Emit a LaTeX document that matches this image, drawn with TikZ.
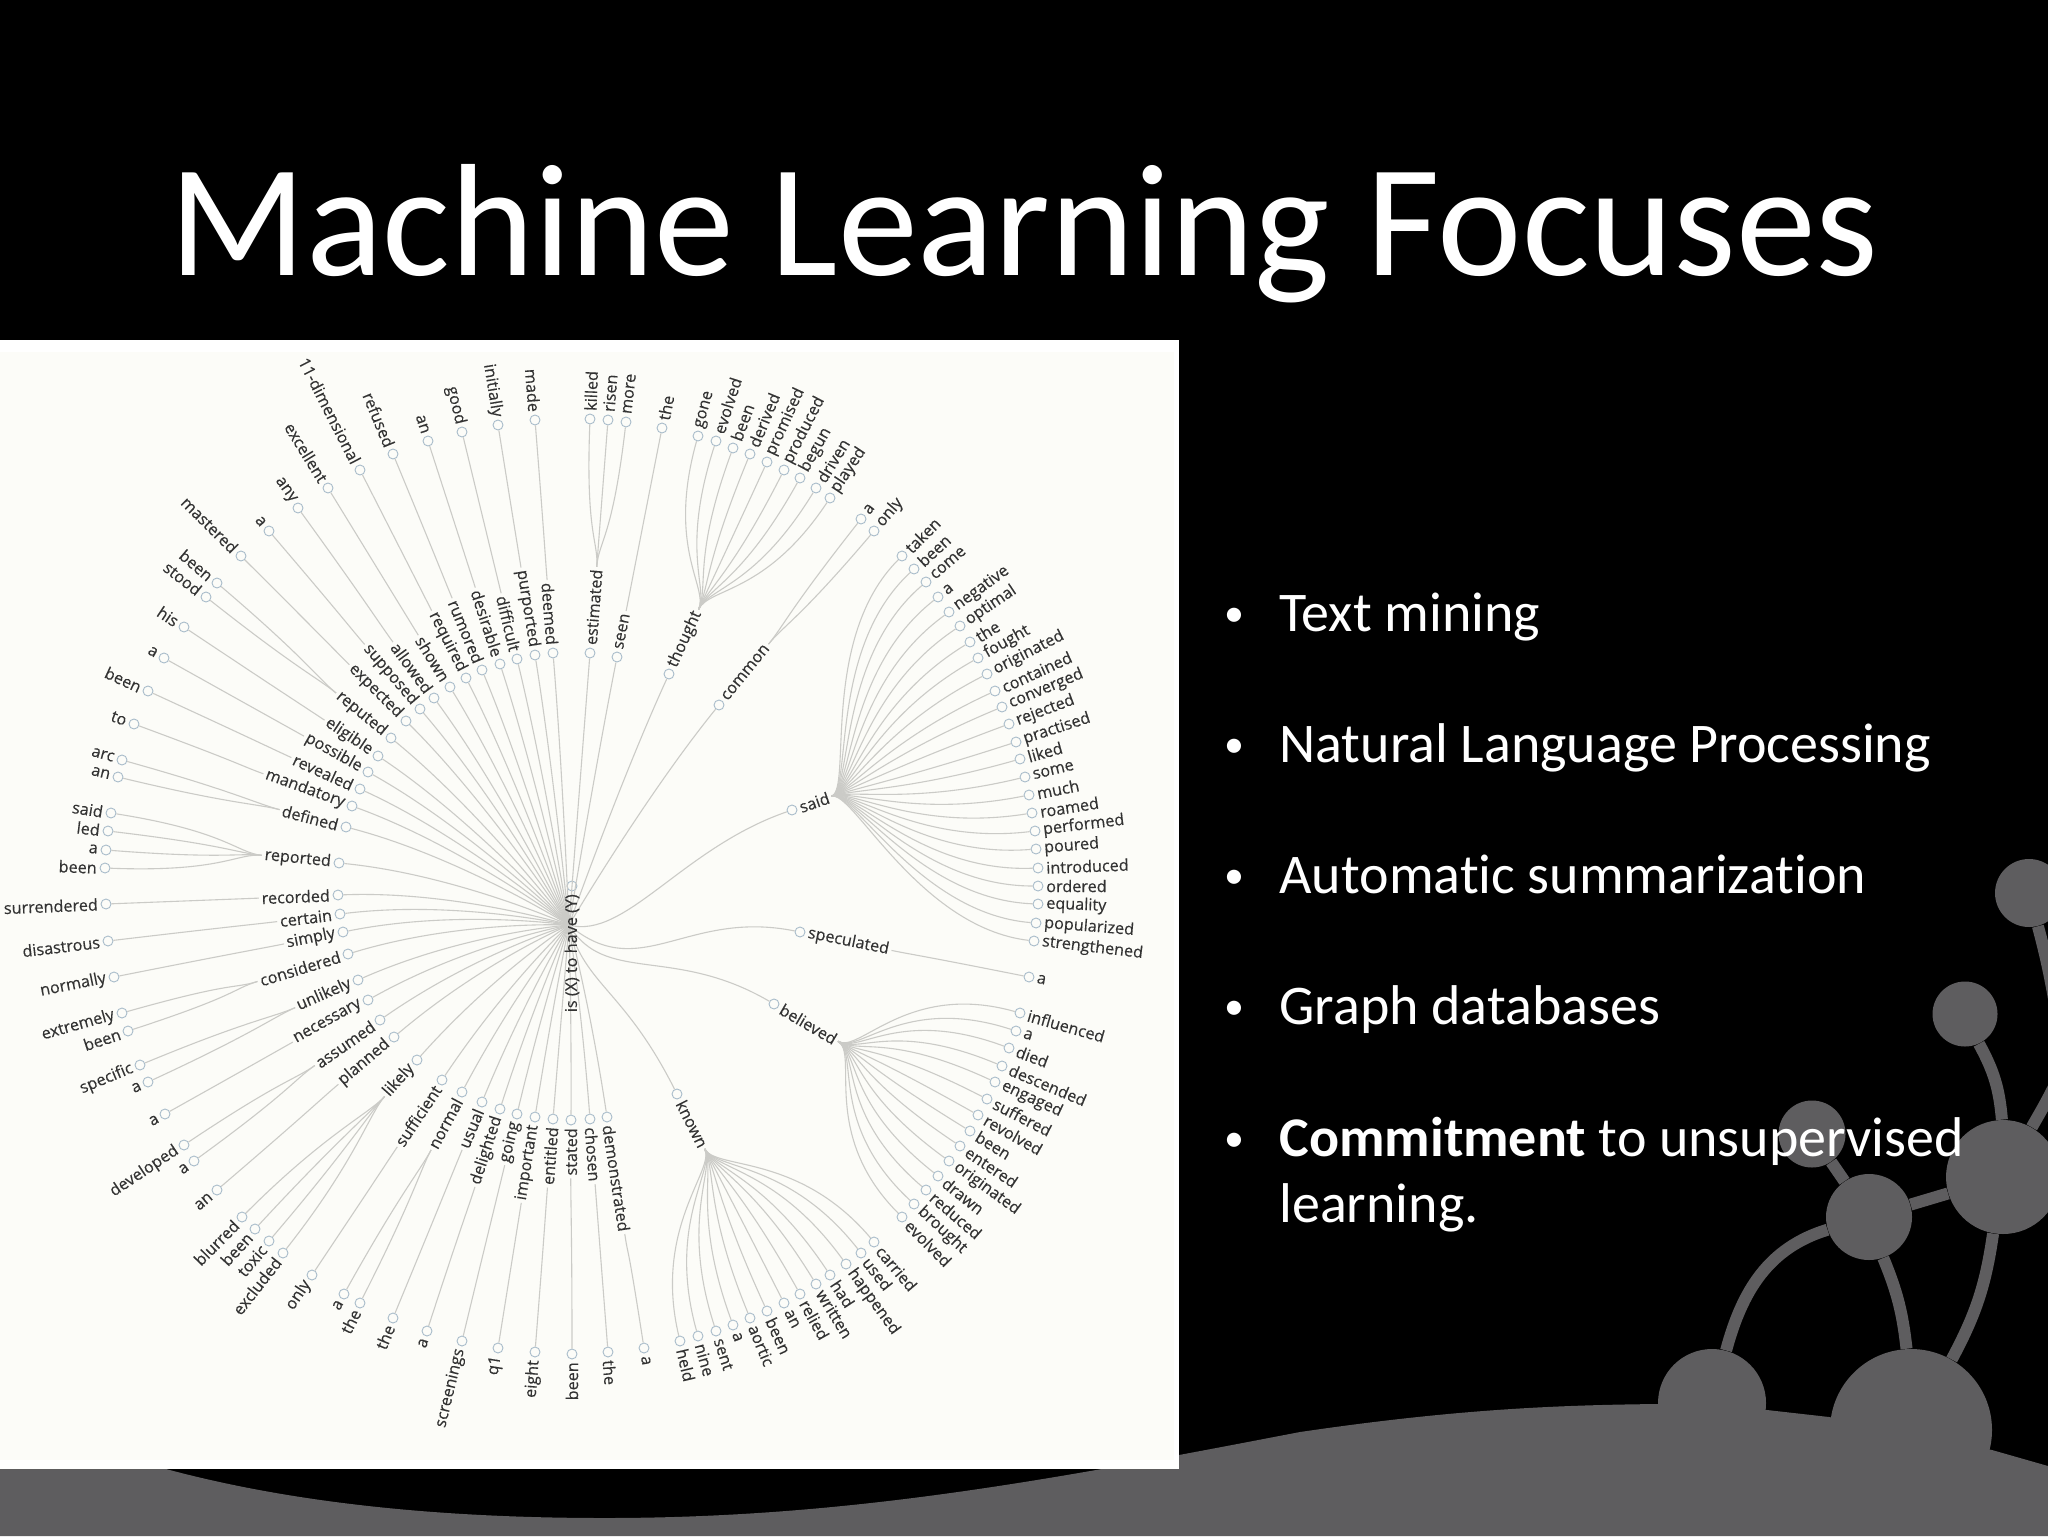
\documentclass[tikz,border=0pt]{standalone}
\usepackage{fontspec}
\setmainfont[Ligatures=NoCommon]{Carlito}
\newfontfamily\wordfont[FakeBold=0.35]{Open Sans}
\usetikzlibrary{calc}
\definecolor{hill}{HTML}{5E5D5F}
\definecolor{paper}{HTML}{FCFCF8}
\definecolor{ring}{HTML}{A9BCCA}
\definecolor{wire}{HTML}{CBCBC7}
\definecolor{ink}{HTML}{333333}
\tikzset{
	vert/.style ={draw = ring, fill = paper, circle, inner sep = 0pt, minimum size = 5pt, line width = 0.45pt},
	wordstyle/.style ={font = \wordfont\fontsize{8.1}{9}\selectfont, text = ink, inner sep = 1.2pt},
	link/.style ={draw = wire, line width = 0.55pt},
	blob/.style ={circle, fill = hill, inner sep = 0pt},
	stem/.style ={draw = hill, line width = 6pt},
	bodytext/.style ={font = \fontsize{28}{32}\selectfont, text = white, anchor = base west, inner sep = 0pt},
	dotmark/.style ={font = \fontsize{20}{24}\selectfont, text = white, anchor = base west, inner sep = 0pt},
}
% one circle with its text set along the ray from the root
\newcommand{\word}[4]{%
	\node[vert] (#1) at (#2,#3) {};
	\pgfmathsetmacro\wang{atan2(886-#3,#2-572)}
	\ifdim #2pt>580pt
		\node[wordstyle, rotate = \wang, anchor = west] (#1t) at (#1.\wang) {#4};
		\coordinate (#1e) at (#1t.east);
	\else
		\pgfmathsetmacro\wflip{\wang+180}
		\node[wordstyle, rotate = \wflip, anchor = east] (#1t) at (#1.\wang) {#4};
		\coordinate (#1e) at (#1t.west);
	\fi
}
% first-level word, its link from the hub, and its children
\newcommand{\limb}[6]{%
	\word{#1}{#2}{#3}{#4}
	\draw[link] (hub) .. controls #5 and ($(#1)!.5!(root)$) .. (#1);
	\foreach \i/\x/\y/\w in {#6}{
		\word{#1\i}{\x}{\y}{\w}
		\draw[link] (#1e) .. controls ($(root)!1.08!(#1e)$) and ($(#1\i)!.25!(root)$) .. (#1\i);
	}
}
\begin{document}
\begin{tikzpicture}[x = 0.5pt, y = -0.5pt]
	\useasboundingbox (0,0) rectangle (2048,1536);
	\fill[black] (0,0) rectangle (2048,1536);
	% ground
	\fill[hill] (0,1536) -- (0,1469) -- (166,1469) .. controls (300,1505) and (450,1518) .. (605,1518)
	.. controls (850,1518) and (1050,1480) .. (1300,1432) .. controls (1450,1410) and (1550,1405) .. (1660,1404)
	-- (1767,1410) -- (1829,1417) -- (1992,1450) -- (2048,1466) -- (2048,1536) -- cycle;
	% molecule
	\node[blob, minimum size = 108pt*0.5] (molG) at (1712,1403) {};
	\node[blob, minimum size = 162pt*0.5] (molF) at (1911,1430) {};
	\node[blob, minimum size = 68pt*0.5] (molA) at (2029,893) {};
	\node[blob, minimum size = 65pt*0.5] (molB) at (1965,1014) {};
	\node[blob, minimum size = 67pt*0.5] (molC) at (1812,1134) {};
	\node[blob, minimum size = 86pt*0.5] (molD) at (1869,1217) {};
	\node[blob, minimum size = 114pt*0.5] (molE) at (2003,1177) {};
	\coordinate (offA) at (2056,1010);
	\coordinate (offE) at (2062,1070);
	\draw[stem] (molB) to[bend left = 12] (molE);
	\draw[stem] (molC) -- (molD);
	\draw[stem] (molD) -- (molE);
	\draw[stem] (molD) to[out = 197, in = 75] (molG);
	\draw[stem] (molD) to[bend left = 8] (molF);
	\draw[stem] (molE) to[bend left = 10] (molF);
	\draw[stem] (molA) to[out = -75, in = 100] (offA);
	\draw[stem] (molE) to[out = 60, in = -115] (offE);
	% title and bullets
	\node[font = \fontsize{80}{88}\selectfont, text = white, anchor = base, inner sep = 0pt] (title) at (1024,275) {Machine Learning Focuses};
	\foreach \i/\y/\w in {1/631/Text mining, 2/762/Natural Language Processing, 3/893/Automatic summarization, 4/1024/Graph databases, 5/1156/{\textbf{Commitment} to unsupervised}}{
		\node[dotmark] (dot\i) at (1224,\y-5) {•};
		\node[bodytext] (item\i) at (1279,\y) {\w};
	}
	\node[bodytext] (item6) at (1279,1222) {learning.};
	% picture panel
	\fill[white] (0,340) rectangle (1179,1469);
	\fill[paper] (0,352) rectangle (1174,1460);
	\coordinate (hub) at (569,925);
	\node[vert] (root) at (572,886) {};
	% left side
	\limb{recorded}{338}{895}{recorded}{(hub)}{1/106/904/surrendered}
	\limb{reported}{339}{863}{reported}{(hub)}{1/111/813/said, 2/108/831/led, 3/106/850/a, 4/105/868/been}
	\limb{defined}{346}{827}{defined}{(hub)}{1/122/760/arc, 2/118/777/an}
	\limb{mandatory}{352}{806}{mandatory}{(hub)}{1/134/724/to}
	\limb{revealed}{360}{789}{revealed}{(hub)}{1/148/691/been}
	\limb{possible}{368}{772}{possible}{(hub)}{1/164/658/a}
	\limb{eligible}{378}{756}{eligible}{(hub)}{1/184/627/his}
	\limb{reputed}{391}{738}{reputed}{(hub)}{1/217/583/been, 2/206/597/stood}
	\limb{expected}{406}{721}{expected}{(hub)}{1/241/556/mastered}
	\limb{supposed}{420}{709}{supposed}{(hub)}{1/269/531/a}
	\limb{allowed}{434}{698}{allowed}{(hub)}{1/298/508/any}
	\limb{shown}{450}{687}{shown}{(hub)}{1/328/488/excellent}
	\limb{required}{466}{678}{required}{(hub)}{1/360/470/11-dimensional}
	\limb{rumored}{482}{670}{rumored}{(hub)}{1/393/454/refused}
	\limb{desirable}{500}{664}{desirable}{(hub)}{1/428/441/an}
	\limb{difficult}{517}{659}{difficult}{(hub)}{1/462/432/good}
	\limb{purported}{535}{655}{purported}{(hub)}{1/498/425/initially}
	\limb{deemed}{553}{653}{deemed}{(hub)}{1/535/420/made}
	% right side
	\limb{estimated}{590}{653}{estimated}{(hub)}{1/590/419/killed, 2/608/420/risen, 3/626/422/more}
	\limb{seen}{617}{657}{seen}{(hub)}{1/662/428/the}
	\limb{thought}{669}{674}{thought}{(hub)}{1/698/436/gone, 2/716/441/evolved, 3/733/448/been, 4/750/454/derived, 5/767/462/promised, 6/784/470/produced, 7/800/478/begun, 8/816/488/driven, 9/830/498/played}
	\limb{common}{719}{705}{common}{(hub)}{1/861/519/a, 2/874/531/only}
	\limb{said}{792}{810}{said}{(625,940)}{1/902/556/taken, 2/914/569/been, 3/926/582/come, 4/938/597/a, 5/949/612/negative, 6/960/626/optimal, 7/970/642/the, 8/978/658/fought, 9/987/674/originated, 10/995/691/contained, 11/1002/707/converged, 12/1009/724/rejected, 13/1016/742/practised, 14/1020/759/liked, 15/1025/777/some, 16/1029/795/much, 17/1032/813/roamed, 18/1035/831/performed, 19/1036/849/poured, 20/1038/868/introduced, 21/1038/886/ordered, 22/1038/904/equality, 23/1036/923/popularized, 24/1034/941/strengthened}
	\limb{speculated}{800}{932}{speculated}{(640,985)}{1/1029/977/a}
	\limb{believed}{774}{1004}{believed}{(605,985)}{1/1020/1013/influenced, 2/1016/1031/a, 3/1009/1048/died, 4/1002/1066/descended, 5/995/1082/engaged, 6/987/1099/suffered, 7/978/1115/revolved, 8/970/1131/been, 9/960/1146/entered, 10/949/1161/originated, 11/938/1176/drawn, 12/926/1190/reduced, 13/914/1204/brought, 14/902/1217/evolved}
	\limb{known}{677}{1094}{known}{(585,985)}{1/874/1242/carried, 2/861/1253/used, 3/846/1264/happened, 4/830/1275/had, 5/816/1284/written, 6/800/1294/relied, 7/784/1303/an, 8/767/1311/been, 9/750/1318/aortic, 10/733/1325/a, 11/716/1331/sent, 12/698/1336/nine, 13/680/1341/held}
	% bottom
	\limb{demonstrated}{607}{1117}{demonstrated}{(hub)}{1/644/1348/a}
	\limb{chosen}{590}{1119}{chosen}{(hub)}{1/608/1352/the}
	\limb{stated}{571}{1120}{stated}{(hub)}{1/572/1354/been}
	\limb{entitled}{553}{1119}{entitled}{(hub)}{1/535/1352/eight}
	\limb{important}{535}{1117}{important}{(hub)}{1/498/1348/q1}
	\limb{going}{517}{1114}{going}{(hub)}{1/462/1341/screenings}
	\limb{delighted}{500}{1109}{delighted}{(hub)}{1/427/1331/a}
	\limb{usual}{482}{1102}{usual}{(hub)}{1/393/1318/the}
	\limb{normal}{462}{1092}{normal}{(hub)}{1/344/1294/a, 2/360/1303/the}
	\limb{sufficient}{442}{1080}{sufficient}{(hub)}{1/312/1275/only}
	\limb{likely}{417}{1060}{likely}{(hub)}{1/242/1217/blurred, 2/255/1229/been, 3/269/1241/toxic, 4/283/1253/excluded}
	\limb{planned}{394}{1037}{planned}{(hub)}{1/217/1190/an}
	\limb{assumed}{380}{1020}{assumed}{(hub)}{1/184/1145/developed, 2/194/1161/a}
	\limb{necessary}{368}{1000}{necessary}{(hub)}{1/165/1114/a}
	\limb{unlikely}{358}{980}{unlikely}{(hub)}{1/140/1065/specific, 2/148/1082/a}
	\limb{considered}{348}{954}{considered}{(hub)}{1/122/1013/extremely, 2/128/1031/been}
	\limb{simply}{343}{932}{simply}{(hub)}{1/114/977/normally}
	\limb{certain}{340}{914}{certain}{(hub)}{1/108/941/disastrous}
	\node[wordstyle, rotate = 90, anchor = east] (roott) at (root.south) {is (X) to have (Y)};
\end{tikzpicture}
\end{document}
